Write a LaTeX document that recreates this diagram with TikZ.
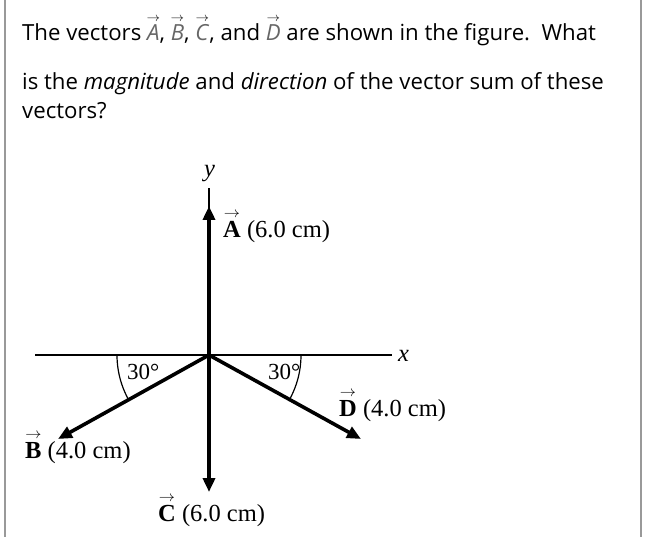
\documentclass[tikz,border=0pt]{standalone}
\usepackage{fontspec}
\usepackage{graphicx}
\setmainfont{Liberation Serif}
\newfontfamily\opensans{Open Sans}
\usetikzlibrary{arrows.meta}
% ベクトル記号(文字の上に矢印)
\newcommand{\vecmark}[1]{\sbox0{#1}\rlap{\makebox[\wd0]{\raisebox{\dimexpr\ht0+3pt\relax}{\scalebox{0.65}[0.6]{$\rightarrow$}}}}\usebox0}
\newcommand{\vecbf}[1]{\vecmark{\textbf{#1}}}
\newcommand{\vecit}[1]{\vecmark{\color{black!60}\textit{#1}}}
\begin{document}
\begin{tikzpicture}[x=1pt,y=-1pt,
    vecline/.style={line width=4pt,-{Triangle[length=14pt,width=12pt]}},
    axisline/.style={line width=1.2pt},
    lbl/.style={font=\fontsize{24.5}{28}\selectfont,anchor=base west,inner sep=0pt},
    qtext/.style={font=\opensans\fontsize{22.2}{26}\selectfont,anchor=base west,inner sep=0pt}]
        \useasboundingbox (0,0) rectangle (647,537);
        % 枠の縦線
        \draw[black!40,line width=1.5pt] (5,0) -- (5,537);
        \draw[black!40,line width=1.5pt] (641,0) -- (641,537);
        % 問題文
        \node[qtext] (q1) at (22,40.5) {The vectors \vecit{A}, \vecit{B}, \vecit{C}, and \vecit{D} are shown in the figure.~~What};
        \node[qtext] (q2) at (22,90) {is the \textit{magnitude} and \textit{direction} of the vector sum of these};
        \node[qtext] (q3) at (22,119) {vectors?};
        % 原点と各点
        \coordinate (O) at (209,355);
        \coordinate (xl) at (35,355);
        \coordinate (xr) at (392,355);
        \coordinate (yt) at (209,188);
        \coordinate (tipA) at (209,206);
        \coordinate (tipB) at (58,439);
        \coordinate (tipC) at (209,492);
        \coordinate (tipD) at (361,439);
        % 座標軸
        \draw[axisline] (xl) -- (xr);
        \draw[axisline] (O) -- (yt);
        \node[lbl,font=\fontsize{24.5}{28}\selectfont\itshape] (xlbl) at (398,361) {x};
        \node[lbl,font=\fontsize{24.5}{28}\selectfont\itshape] (ylbl) at (204,177) {y};
        % 30度の角
        \draw[axisline] (O) ++(180:92) arc[start angle=180,end angle=150,radius=92];
        \draw[axisline] (O) ++(0:92) arc[start angle=0,end angle=30,radius=92];
        \node[lbl,font=\fontsize{23}{27}\selectfont] (ang1) at (127,379) {30°};
        \node[lbl,font=\fontsize{23}{27}\selectfont] (ang2) at (268,379) {30°};
        % ベクトル
        \draw[vecline] (O) -- (tipA);
        \draw[vecline] (O) -- (tipC);
        \draw[vecline,line width=3.6pt] (O) -- (tipB);
        \draw[vecline,line width=3.6pt] (O) -- (tipD);
        % ラベル
        \node[lbl] (lblA) at (223,237) {\vecbf{A} (6.0 cm)};
        \node[lbl] (lblB) at (25,458) {\vecbf{B} (4.0 cm)};
        \node[lbl] (lblC) at (158,521) {\vecbf{C} (6.0 cm)};
        \node[lbl] (lblD) at (339,416) {\vecbf{D} (4.0 cm)};
      \end{tikzpicture}
\end{document}
